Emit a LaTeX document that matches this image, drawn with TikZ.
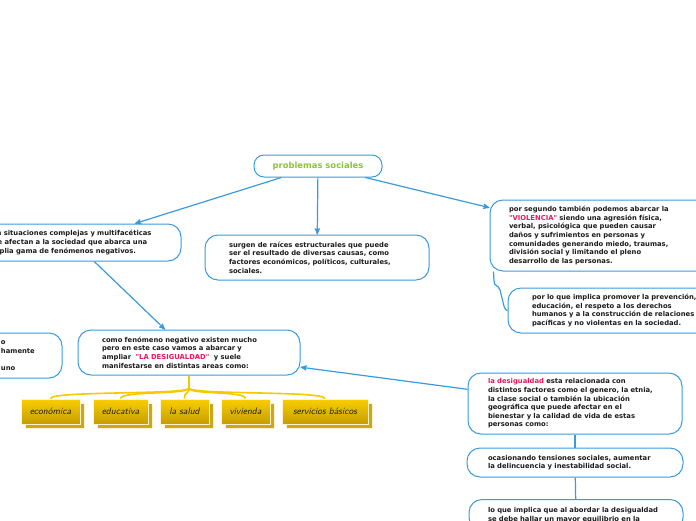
\documentclass[tikz,border=0pt]{standalone}
\usepackage{fontspec}
\usepackage{xcolor}
\usepackage{tikz}
\usetikzlibrary{
    arrows,
    shadows
}
\newfontfamily\ideafont{DejaVu Sans}
\definecolor{linkblue}{RGB}{58,155,220}
\definecolor{rootgreen}{RGB}{140,195,60}
\definecolor{accentpink}{RGB}{232,24,96}
\definecolor{inkblack}{RGB}{28,28,28}
\definecolor{tagtop}{RGB}{250,206,0}
\definecolor{tagbottom}{RGB}{198,158,0}
\definecolor{tagshade}{RGB}{204,166,30}
\definecolor{tagrim}{RGB}{255,243,205}
\definecolor{twigyellow}{RGB}{247,200,0}
\newcommand{\ideatext}{\ideafont\bfseries\fontsize{6.8}{8.6}\selectfont}
\newcommand{\roottext}{\ideafont\bfseries\fontsize{8.4}{10}\selectfont}
\newcommand{\tagtext}{\sffamily\itshape\fontsize{9.5}{11}\selectfont}
\newcommand{\hl}[1]{\textcolor{accentpink}{#1}}

\begin{document}
\begin{tikzpicture}[x=1pt, y=-1pt, >=stealth', semithick]
    \tikzstyle{idea}=[draw=linkblue, line width=1pt, rounded corners=13pt, fill=white, text=inkblack, font=\ideatext, align=left, inner ysep=0pt]
    \tikzstyle{tag}=[draw=tagrim, line width=0.8pt, top color=tagtop, bottom color=tagbottom, text=inkblack, font=\tagtext, minimum height=25pt, inner sep=0pt, general shadow={fill=tagshade, draw=tagrim, line width=0.8pt, shadow xshift=4pt, shadow yshift=-4pt}]
    \tikzstyle{link}=[draw=linkblue, line width=1.2pt]
    \tikzstyle{twig}=[draw=twigyellow, line width=1.6pt]
    \path [use as bounding box, clip] (0, 0) rectangle (696, 520);

    \node [idea, align=center, text=rootgreen, font=\roottext, rounded corners=10pt, minimum width=128pt, minimum height=22pt, inner sep=0pt] (root) at (318, 166) {problemas sociales};

    \node [idea, text width=173pt, inner xsep=20pt, minimum height=37pt] (situaciones) at (74.5, 242.5) {son situaciones complejas y multifacéticas\\ que afectan a la sociedad que abarca una\\ amplia gama de fenómenos negativos.};

    \node [idea, text width=176pt, inner xsep=24pt, minimum height=45pt] (raices) at (317, 257.5) {surgen de raíces estructurales que puede\\ ser el resultado de diversas causas, como\\ factores económicos, políticos, culturales,\\ sociales.};

    \node [idea, text width=190pt, inner xsep=19pt, minimum height=71pt] (violencia) at (604, 235.5) {por segundo también podemos abarcar la\\ \hl{"VIOLENCIA"} siendo una agresión física,\\ verbal, psicológica que pueden causar\\ daños y sufrimientos en personas y\\ comunidades generando miedo, traumas,\\ división social y limitando el pleno\\ desarrollo de las personas.};

    \node [idea, text width=190pt, inner xsep=24pt, minimum height=45pt] (prevencion) at (627, 310.5) {por lo que implica promover la prevención,\\ educación, el respeto a los derechos\\ humanos y a la construcción de relaciones\\ pacíficas y no violentas en la sociedad.};

    \node [idea, text width=38pt, inner xsep=23pt, minimum height=45pt] (oculto) at (20, 355.5) {o\\ hamente\\ ~\\ uno};

    \node [idea, text width=174pt, inner xsep=24pt, minimum height=45pt] (fenomeno) at (189, 352.5) {como fenómeno negativo existen mucho\\ pero en este caso vamos a abarcar y\\ ampliar~ \hl{"LA DESIGUALDAD"} ~y suele\\ manifestarse en distintas areas como:};

    \node [idea, text width=174pt, inner xsep=20pt, minimum height=61pt] (desigualdad) at (575, 403.5) {\hl{la desigualdad} esta relacionada con\\ distintos factores como el genero, la etnia,\\ la clase social o también la ubicación\\ geográfica que puede afectar en el\\ bienestar y la calidad de vida de estas\\ personas como:};

    \node [idea, text width=174pt, inner xsep=21pt, minimum height=29pt] (tensiones) at (575, 462.5) {ocasionando tensiones sociales, aumentar\\ la delincuencia y inestabilidad social.};

    \node [idea, text width=176pt, inner xsep=19pt, inner ysep=8pt, anchor=north] (equilibrio) at (576, 499) {lo que implica que al abordar la desigualdad\\ se debe hallar un mayor equilibrio en la};

    % areas de la desigualdad
    \node [tag, minimum width=59pt] (economica) at (50.5, 411.5) {económica};
    \node [tag, minimum width=55pt] (educativa) at (120.5, 411.5) {educativa};
    \node [tag, minimum width=49pt] (salud) at (184.5, 411.5) {la salud};
    \node [tag, minimum width=49pt] (vivienda) at (245.5, 411.5) {vivienda};
    \node [tag, minimum width=86pt] (servicios) at (325, 411.5) {servicios básicos};

    \draw [->, link] (root) -- (situaciones);
    \draw [->, link] (root) -- (raices);
    \draw [->, link] (root) -- (violencia);
    \draw [->, link] (situaciones) -- (fenomeno);
    \draw [->, link] (desigualdad) -- (fenomeno);
    \draw [link] (desigualdad) -- (tensiones);
    \draw [link] (tensiones) -- (equilibrio);

    \coordinate (brace) at (494, 281);
    \draw [link] ([xshift=4pt]violencia.south west) -- (brace) .. controls (494, 287) and (498, 284) .. (500, 290) -- (503, 302) .. controls (504, 307) and (505, 310) .. (prevencion.west);

    \coordinate (hub) at (189, 388);
    \draw [twig] (fenomeno.south) -- (hub);
    \foreach \area in {economica, educativa, salud, vivienda, servicios}
        \draw [twig] (hub) .. controls +(0, 7) and +(0, -8) .. (\area.north);
\end{tikzpicture}
\end{document}
